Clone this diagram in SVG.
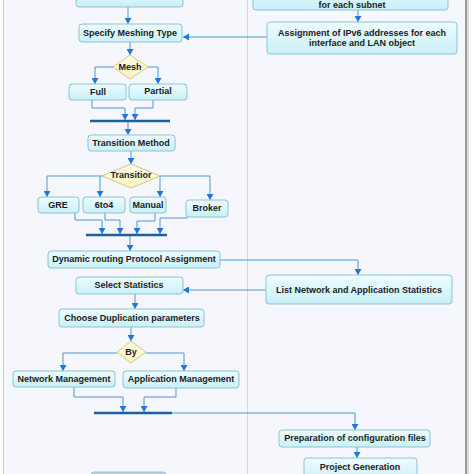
<svg xmlns="http://www.w3.org/2000/svg" width="474" height="474" viewBox="0 0 474 474">
<defs>
<linearGradient id="boxg" x1="0" y1="0" x2="0" y2="1">
<stop offset="0" stop-color="#eefcfe"/>
<stop offset="1" stop-color="#c9f0f8"/>
</linearGradient>
<linearGradient id="dg" x1="0" y1="0" x2="0" y2="1">
<stop offset="0" stop-color="#fffde6"/>
<stop offset="1" stop-color="#fbf2bf"/>
</linearGradient>
<marker id="ah" markerUnits="userSpaceOnUse" markerWidth="6" markerHeight="7" refX="6" refY="3.5" orient="auto">
<path d="M0,0 L6,3.5 L0,7 z" fill="#1f78d8"/>
</marker>
</defs>
<style>
.box{fill:url(#boxg);stroke:#8cc3d3;stroke-width:1}
.dia{fill:url(#dg);stroke:#d2c890;stroke-width:1}
.t{font-family:"Liberation Sans",Arial,sans-serif;font-weight:bold;font-size:9px;fill:#1a1a1a;text-anchor:middle}
.c{fill:none;stroke:#4d95d6;stroke-width:1}
.a{marker-end:url(#ah)}
.bar{stroke:#1b5f9e;stroke-width:2.5}
</style>
<rect x="0" y="0" width="474" height="474" fill="#ffffff"/>
<rect x="3" y="0" width="463" height="474" fill="#f5f7fc"/>
<line x1="3.5" y1="0" x2="3.5" y2="474" stroke="#c8ccd4" stroke-width="1"/>
<line x1="247.5" y1="0" x2="247.5" y2="474" stroke="#d4d8e0" stroke-width="1"/>
<line x1="466" y1="0" x2="466" y2="474" stroke="#9a9a9a" stroke-width="2"/>
<line x1="468" y1="0" x2="468" y2="474" stroke="#d8d8d8" stroke-width="2"/>

<g id="connectors">
<path class="c a" d="M128,7 V24"/>
<path class="c a" d="M267,37 H183"/>
<path class="c a" d="M358,10 V22"/>
<path class="c a" d="M130,42 V55"/>
<path class="c a" d="M113,67 H95 V84"/>
<path class="c a" d="M148,67 H158 V84"/>
<path class="c a" d="M92,100 V108 H125 V120"/>
<path class="c a" d="M153,100 V108 H135 V120"/>
<path class="c a" d="M128,122 V135"/>
<path class="c a" d="M131,151 V164"/>
<path class="c a" d="M102,176 H47 V197"/>
<path class="c a" d="M100,176 V197"/>
<path class="c a" d="M160,176 H210 V200"/>
<path class="c a" d="M160,176 V197"/>
<path class="c a" d="M75,213 V220 H102 V234"/>
<path class="c a" d="M105,213 V220 H120 V234"/>
<path class="c a" d="M155,213 V221 H137 V234"/>
<path class="c a" d="M187,217 V218 H160 V234"/>
<path class="c a" d="M130,236 V251"/>
<path class="c a" d="M220,260 H358 V275"/>
<path class="c a" d="M266,290 H183"/>
<path class="c a" d="M135,294 V309"/>
<path class="c a" d="M131,327 V341"/>
<path class="c a" d="M117,353 H63 V371"/>
<path class="c a" d="M146,353 H184 V371"/>
<path class="c a" d="M74,387 V397 H123 V412"/>
<path class="c a" d="M176,388 V397 H144 V412"/>
<path class="c a" d="M172,413 H355 V430"/>
<path class="c a" d="M357,447 V458"/>
<line class="bar" x1="90" y1="121" x2="170" y2="121"/>
<line class="bar" x1="86" y1="235" x2="167" y2="235"/>
<line class="bar" x1="94" y1="413" x2="172" y2="413"/>
</g>

<g id="n-top-left"><rect class="box" x="76" y="-14" width="107" height="21" rx="3"/></g>
<g id="n-top-right"><rect class="box" x="253" y="-20" width="195" height="30" rx="3"/><text class="t" x="352" y="7.5">for each subnet</text></g>
<g id="n-meshing"><rect class="box" x="79" y="24" width="103" height="18" rx="3"/><text class="t" x="130" y="36">Specify Meshing Type</text></g>
<g id="n-ipv6"><rect class="box" x="267" y="22" width="190" height="32" rx="3"/><text class="t" x="362" y="36">Assignment of IPv6 addresses for each</text><text class="t" x="362" y="46">interface and LAN object</text></g>
<g id="n-mesh"><path class="dia" d="M130,55 L148,67 L130,79 L113,67 z"/><text class="t" x="130" y="70">Mesh</text></g>
<g id="n-full"><rect class="box" x="69" y="84" width="57" height="16" rx="3"/><text class="t" x="98" y="95">Full</text></g>
<g id="n-partial"><rect class="box" x="129" y="84" width="58" height="16" rx="3"/><text class="t" x="158" y="94">Partial</text></g>
<g id="n-transition-method"><rect class="box" x="88" y="135" width="87" height="16" rx="3"/><text class="t" x="131" y="146">Transition Method</text></g>
<g id="n-transition"><path class="dia" d="M131,164 L160,176 L131,188 L102,176 z"/><text class="t" x="131" y="178">Transitior</text></g>
<g id="n-gre"><rect class="box" x="38" y="197" width="41" height="16" rx="3"/><text class="t" x="58" y="208">GRE</text></g>
<g id="n-6to4"><rect class="box" x="83" y="197" width="42" height="16" rx="3"/><text class="t" x="104" y="208">6to4</text></g>
<g id="n-manual"><rect class="box" x="130" y="197" width="36" height="16" rx="3"/><text class="t" x="148" y="208">Manual</text></g>
<g id="n-broker"><rect class="box" x="186" y="200" width="42" height="17" rx="3"/><text class="t" x="207" y="211">Broker</text></g>
<g id="n-dynamic"><rect class="box" x="48" y="251" width="172" height="17" rx="3"/><text class="t" x="134" y="262">Dynamic routing Protocol Assignment</text></g>
<g id="n-list"><rect class="box" x="266" y="275" width="186" height="29" rx="3"/><text class="t" x="359" y="293">List Network and Application Statistics</text></g>
<g id="n-select"><rect class="box" x="76" y="277" width="107" height="17" rx="3"/><text class="t" x="129" y="288">Select Statistics</text></g>
<g id="n-choose"><rect class="box" x="59" y="309" width="145" height="18" rx="3"/><text class="t" x="132" y="321">Choose Duplication parameters</text></g>
<g id="n-by"><path class="dia" d="M131,341 L146,352 L131,363 L117,352 z"/><text class="t" x="131" y="355">By</text></g>
<g id="n-netmgmt"><rect class="box" x="13" y="371" width="102" height="16" rx="3"/><text class="t" x="64" y="382">Network Management</text></g>
<g id="n-appmgmt"><rect class="box" x="123" y="371" width="116" height="17" rx="3"/><text class="t" x="181" y="382">Application Management</text></g>
<g id="n-prep"><rect class="box" x="279" y="430" width="151" height="17" rx="3"/><text class="t" x="355" y="441">Preparation of configuration files</text></g>
<g id="n-project"><rect class="box" x="304" y="458" width="113" height="24" rx="3"/><text class="t" x="360" y="470">Project Generation</text></g>
<g id="n-bottom-left"><rect class="box" x="91" y="472" width="75" height="14" rx="3" style="fill:#b8d4e0;stroke:#a0bccc"/></g>
</svg>
